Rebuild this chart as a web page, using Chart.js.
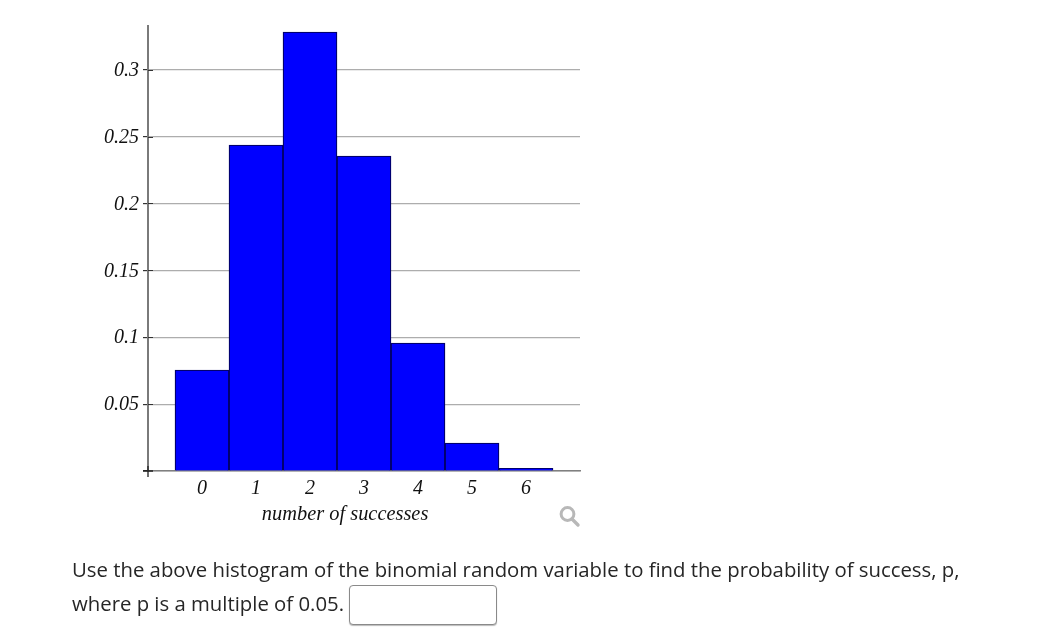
<!DOCTYPE html>
<html><head><meta charset="utf-8">
<style>
html,body{margin:0;padding:0;background:#fff;width:1061px;height:640px;overflow:hidden}
#wrap{position:absolute;left:0;top:0;width:1061px;height:640px}
.q{position:absolute;left:72px;font:20.34px "Open Sans",sans-serif;color:#262626;white-space:nowrap;line-height:34px}
#box{position:absolute;left:349px;top:585px;width:146px;height:38px;border:1px solid #8a8a8a;border-radius:4px;background:#fff;box-shadow:0 1px 1px #bbb}
#mag{position:absolute;left:559px;top:504px}
</style></head><body>
<div id="wrap"><canvas id="c" width="1061" height="640"></canvas></div>
<svg id="mag" width="24" height="24" viewBox="0 0 24 24"><circle cx="8.5" cy="10" r="6.4" fill="none" stroke="#b8b8b8" stroke-width="3"/><line x1="13" y1="15" x2="19" y2="21" stroke="#b8b8b8" stroke-width="3.4" stroke-linecap="round"/></svg>
<div class="q" style="top:552px">Use the above histogram of the binomial random variable to find the probability of success, p,</div>
<div class="q" style="top:586px">where p is a multiple of 0.05.</div>
<div id="box"></div>
<script src="https://cdn.jsdelivr.net/npm/chart.js@4/dist/chart.umd.js"></script>
<script>
const successes = [0, 1, 2, 3, 4, 5, 6];
const probabilities = [0.0755, 0.2436, 0.328, 0.2354, 0.0957, 0.0209, 0.002];
const yTicks = [0.05, 0.1, 0.15, 0.2, 0.25, 0.3];
const xLabel = 'number of successes';
const tickFont = {family:'"Liberation Serif"', style:'italic', size:20};

const axisExtras = {
  id:'axisExtras',
  afterDatasetsDraw(chart){
    const {ctx, scales:{x,y}} = chart;
    const x0 = x.getPixelForValue(-1), y0 = y.getPixelForValue(0);
    ctx.save();
    ctx.strokeStyle = '#333'; ctx.lineWidth = 1;
    for (const t of yTicks){
      const p = Math.round(y.getPixelForValue(t)) + .5;
      ctx.beginPath(); ctx.moveTo(x0, p); ctx.lineTo(x0 + 5, p); ctx.stroke();
    }
    ctx.strokeStyle = '#222'; ctx.lineWidth = 1.3;
    ctx.beginPath();
    ctx.moveTo(x0 - 5, y0); ctx.lineTo(x0 + 5, y0);
    ctx.moveTo(x0, y0 - 5); ctx.lineTo(x0, y0 + 6);
    ctx.stroke();
    ctx.fillStyle = '#111';
    ctx.font = 'italic 20.4px "Liberation Serif"';
    ctx.textAlign = 'center'; ctx.textBaseline = 'middle';
    ctx.fillText(x.options.title.text, x.getPixelForValue(2.65), y0 + 44);
    ctx.restore();
  }
};

new Chart(document.getElementById('c'), {
  type:'bar',
  data:{datasets:[{
    data: successes.map((s,i)=>({x:s, y:probabilities[i]})),
    backgroundColor:'#0000ff',
    borderColor:'#00006e',
    borderWidth:1.3,
    barPercentage:1,
    categoryPercentage:1
  }]},
  options:{
    responsive:false, animation:false,
    layout:{padding:{left:0,right:481,top:26,bottom:109}},
    plugins:{legend:{display:false},tooltip:{enabled:false}},
    scales:{
      x:{
        type:'linear', offset:false, min:-1, max:7,
        title:{display:false,text:xLabel},
        grid:{display:false,drawTicks:false,offset:false},
        border:{display:true,color:'#808080',width:1.5},
        afterFit(s){s.height=60},
        ticks:{stepSize:1,padding:6,color:'#111',font:tickFont,maxRotation:0,
          callback:v=>successes.includes(v)?String(v):''}
      },
      y:{
        min:0, max:0.3326,
        afterFit(s){s.width=148},
        afterBuildTicks(s){s.ticks=[0,...yTicks].map(v=>({value:v}))},
        grid:{color:'#adadad',lineWidth:1.2,tickLength:5,tickColor:'#333'},
        border:{display:true,color:'#7a7a7a',width:2},
        ticks:{padding:4,labelOffset:1,color:'#111',font:tickFont,
          callback:v=>yTicks.includes(v)?String(v):''}
      }
    }
  },
  plugins:[axisExtras]
});
</script>
</body></html>
